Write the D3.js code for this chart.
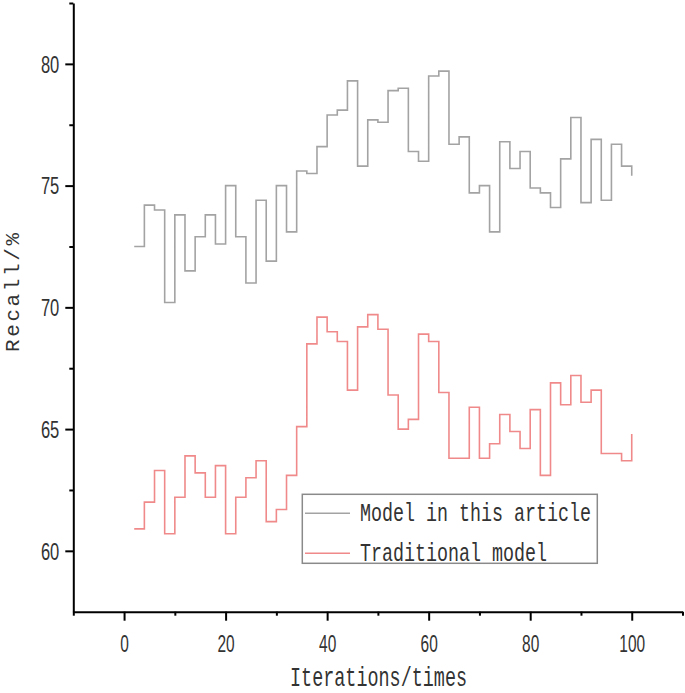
<!DOCTYPE html>
<html>
<head>
<meta charset="utf-8">
<script src="https://d3js.org/d3.v7.min.js"></script>
<style>
  body { margin: 0; background: #fff; }
</style>
</head>
<body>
<script>
// iterations (x) and recall (%) of the two models
var iterations = [2, 4, 6, 8, 10, 12, 14, 16, 18, 20, 22, 24, 26, 28, 30, 32, 34, 36, 38, 40,
  42, 44, 46, 48, 50, 52, 54, 56, 58, 60, 62, 64, 66, 68, 70, 72, 74, 76, 78, 80,
  82, 84, 86, 88, 90, 92, 94, 96, 98, 100];

var modelRecall = [72.5, 74.2, 74.0, 70.2, 73.8, 71.5, 72.9, 73.8, 72.6, 75.0,
  72.9, 71.0, 74.4, 71.9, 75.0, 73.1, 75.6, 75.5, 76.6, 77.9,
  78.1, 79.3, 75.8, 77.7, 77.6, 78.9, 79.0, 76.4, 76.0, 79.5,
  79.7, 76.7, 77.0, 74.7, 75.0, 73.1, 76.8, 75.7, 76.4, 74.9,
  74.7, 74.1, 76.1, 77.8, 74.3, 76.9, 74.4, 76.7, 75.8, 75.4];

var traditionalRecall = [60.9, 62.0, 63.3, 60.7, 62.2, 63.9, 63.2, 62.2, 63.5, 60.7,
  62.2, 63.0, 63.7, 61.2, 61.7, 63.1, 65.1, 68.5, 69.6, 69.0,
  68.6, 66.6, 69.2, 69.7, 69.1, 66.4, 65.0, 65.4, 68.9, 68.6,
  66.5, 63.8, 63.8, 65.9, 63.8, 64.4, 65.6, 64.9, 64.2, 65.8,
  63.1, 66.9, 66.0, 67.2, 66.1, 66.6, 64.0, 64.0, 63.7, 64.8];

var seriesNames = ["Model in this article", "Traditional model"];
var xTicks = [0, 20, 40, 60, 80, 100];
var xMinorTicks = [-10, 10, 30, 50, 70, 90, 110];
var yTicks = [60, 65, 70, 75, 80];
var yMinorTicks = [62.5, 67.5, 72.5, 77.5, 82.5];

var w = 685, h = 693;
var colors = ["#a3a3a3", "#f08a8a"];

var svg = d3.select("body").append("svg").attr("width", w).attr("height", h);

var xScale = d3.scaleLinear().domain([-10, 110]).range([73.3, 682.5]);
var yScale = d3.scaleLinear().domain([57.5, 82.5]).range([611.7, 3]);

// minor ticks first
svg.append("g")
  .attr("transform", "translate(0,611.7)")
  .call(d3.axisBottom(xScale).tickValues(xMinorTicks).tickSize(4).tickSizeOuter(0).tickFormat(""))
  .call(function(g){ g.select(".domain").remove(); });
svg.append("g")
  .attr("transform", "translate(73.3,0)")
  .call(d3.axisLeft(yScale).tickValues(yMinorTicks).tickSize(4).tickSizeOuter(0).tickFormat(""))
  .call(function(g){ g.select(".domain").remove(); });

var xAxis = svg.append("g")
  .attr("transform", "translate(0,611.7)")
  .call(d3.axisBottom(xScale).tickValues(xTicks).tickSize(9).tickSizeOuter(0));
var yAxis = svg.append("g")
  .attr("transform", "translate(73.3,0)")
  .call(d3.axisLeft(yScale).tickValues(yTicks).tickSize(8).tickSizeOuter(0));

svg.selectAll(".tick line, .domain").attr("stroke", "#000").attr("stroke-width", 2);

xAxis.selectAll("text")
  .attr("y", 40).attr("dy", 0)
  .attr("font-family", "'Liberation Sans', sans-serif")
  .attr("font-size", 23)
  .attr("fill", "#333")
  .attr("textLength", function(d){ return String(d).length * 8.6; })
  .attr("lengthAdjust", "spacingAndGlyphs");

yAxis.selectAll("text")
  .attr("x", -14).attr("dy", "0.36em")
  .attr("font-family", "'Liberation Sans', sans-serif")
  .attr("font-size", 23)
  .attr("fill", "#333")
  .attr("textLength", function(d){ return String(d).length * 9.2; })
  .attr("lengthAdjust", "spacingAndGlyphs");

// step lines
var line = d3.line()
  .x(function(d){ return xScale(d[0]); })
  .y(function(d){ return yScale(d[1]); })
  .curve(d3.curveStepAfter);

[modelRecall, traditionalRecall].forEach(function(vals, i){
  svg.append("path")
    .datum(d3.zip(iterations, vals))
    .attr("fill", "none")
    .attr("stroke", colors[i])
    .attr("stroke-width", 1.6)
    .attr("d", line);
});

// axis titles
svg.append("text")
  .attr("x", 290).attr("y", 686)
  .attr("font-family", "'Liberation Mono', monospace")
  .attr("font-size", 28)
  .attr("fill", "#333")
  .attr("textLength", 177)
  .attr("lengthAdjust", "spacingAndGlyphs")
  .text("Iterations/times");

svg.append("text")
  .attr("transform", "translate(19,352) rotate(-90)")
  .attr("font-family", "'Liberation Mono', monospace")
  .attr("font-size", 21)
  .attr("fill", "#333")
  .attr("textLength", 119)
  .attr("lengthAdjust", "spacing")
  .text("Recall/%");

// legend
var legend = svg.append("g");
legend.append("rect")
  .attr("x", 302.3).attr("y", 494.3)
  .attr("width", 295).attr("height", 69)
  .attr("fill", "#fff")
  .attr("stroke", "#8a8a8a")
  .attr("stroke-width", 1.5);

seriesNames.forEach(function(name, i){
  var ly = 513.3 + i * 40;
  legend.append("line")
    .attr("x1", 305).attr("x2", 350)
    .attr("y1", ly).attr("y2", ly)
    .attr("stroke", colors[i]).attr("stroke-width", 1.6);
  legend.append("text")
    .attr("x", 360).attr("y", ly + 8)
    .attr("font-family", "'Liberation Mono', monospace")
    .attr("font-size", 25)
    .attr("fill", "#333")
    .attr("textLength", name.length * 11)
    .attr("lengthAdjust", "spacingAndGlyphs")
    .text(name);
});
</script>
</body>
</html>
